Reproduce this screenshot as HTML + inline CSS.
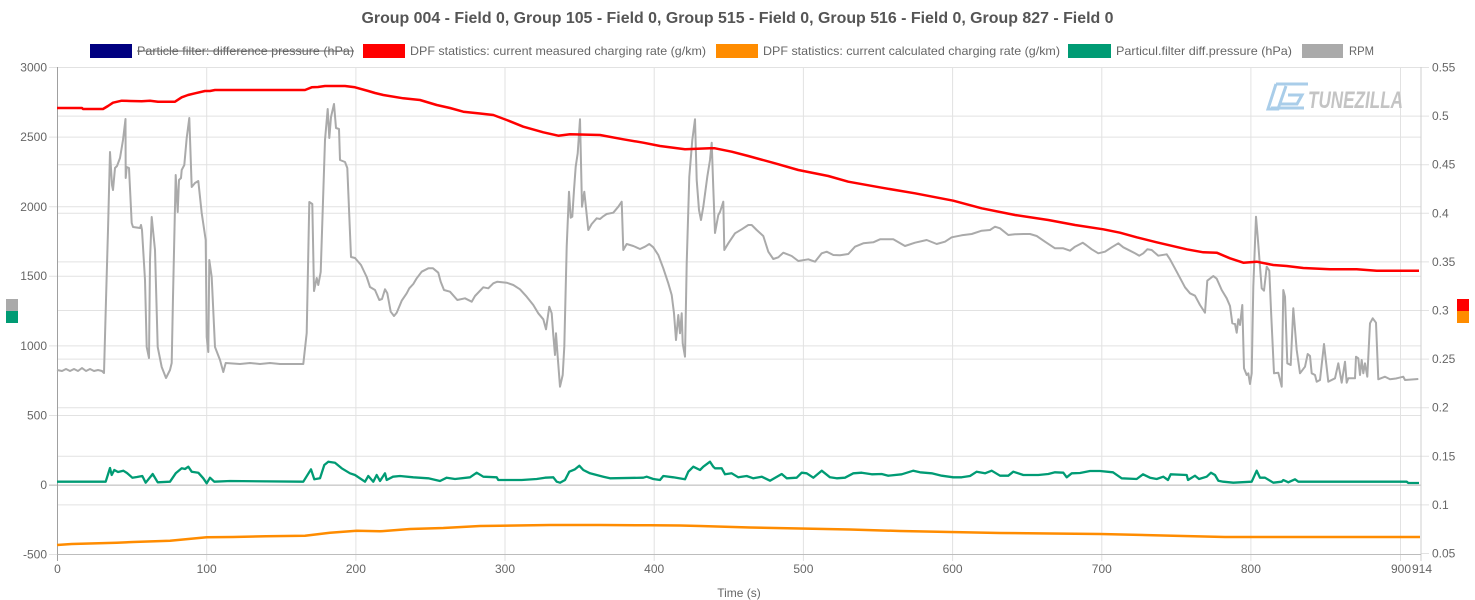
<!DOCTYPE html>
<html>
<head>
<meta charset="utf-8">
<style>
html,body{margin:0;padding:0;background:#fff;}
svg{display:block;}
text{font-family:"Liberation Sans",Arial,sans-serif;}
</style>
</head>
<body>
<svg width="1475" height="600" viewBox="0 0 1475 600" xmlns="http://www.w3.org/2000/svg">
<rect width="1475" height="600" fill="#fff"/>
<!-- Title -->
<text x="737.5" y="23" text-anchor="middle" font-size="16" font-weight="bold" fill="#555" textLength="752" lengthAdjust="spacingAndGlyphs">Group 004 - Field 0, Group 105 - Field 0, Group 515 - Field 0, Group 516 - Field 0, Group 827 - Field 0</text>

<!-- Legend -->
<g font-size="12" fill="#666">
<rect x="90" y="44" width="42" height="14" fill="#000080"/>
<text x="137" y="55" textLength="217" lengthAdjust="spacingAndGlyphs">Particle filter: difference pressure (hPa)</text>
<line x1="137" y1="51" x2="354" y2="51" stroke="#666" stroke-width="1"/>
<rect x="363" y="44" width="42" height="14" fill="#ff0000"/>
<text x="410" y="55" textLength="296" lengthAdjust="spacingAndGlyphs">DPF statistics: current measured charging rate (g/km)</text>
<rect x="716" y="44" width="42" height="14" fill="#ff8c00"/>
<text x="763" y="55" textLength="297" lengthAdjust="spacingAndGlyphs">DPF statistics: current calculated charging rate (g/km)</text>
<rect x="1068" y="44" width="43" height="14" fill="#009b74"/>
<text x="1116" y="55" textLength="176" lengthAdjust="spacingAndGlyphs">Particul.filter diff.pressure (hPa)</text>
<rect x="1302" y="44" width="41" height="14" fill="#aaaaaa"/>
<text x="1349" y="55" textLength="25" lengthAdjust="spacingAndGlyphs">RPM</text>
</g>

<!-- Horizontal gridlines (left axis) -->
<g stroke="#e2e2e2" stroke-width="1">
<line x1="49" y1="67.5" x2="1421" y2="67.5"/>
<line x1="49" y1="137.1" x2="1421" y2="137.1"/>
<line x1="49" y1="206.7" x2="1421" y2="206.7"/>
<line x1="49" y1="276.3" x2="1421" y2="276.3"/>
<line x1="49" y1="345.9" x2="1421" y2="345.9"/>
<line x1="49" y1="415.5" x2="1421" y2="415.5"/>
<line x1="49" y1="554.5" x2="1421" y2="554.5"/>
<!-- right axis -->
<line x1="57.5" y1="116.1" x2="1429" y2="116.1"/>
<line x1="57.5" y1="164.7" x2="1429" y2="164.7"/>
<line x1="57.5" y1="213.3" x2="1429" y2="213.3"/>
<line x1="57.5" y1="261.9" x2="1429" y2="261.9"/>
<line x1="57.5" y1="310.5" x2="1429" y2="310.5"/>
<line x1="57.5" y1="359.1" x2="1429" y2="359.1"/>
<line x1="57.5" y1="407.7" x2="1429" y2="407.7"/>
<line x1="57.5" y1="456.3" x2="1429" y2="456.3"/>
<line x1="57.5" y1="504.9" x2="1429" y2="504.9"/>
<line x1="1421" y1="67.5" x2="1429" y2="67.5"/>
<line x1="1421" y1="553.5" x2="1429" y2="553.5"/>
<!-- vertical -->
<line x1="206.7" y1="67.5" x2="206.7" y2="561"/>
<line x1="355.9" y1="67.5" x2="355.9" y2="561"/>
<line x1="505" y1="67.5" x2="505" y2="561"/>
<line x1="654.2" y1="67.5" x2="654.2" y2="561"/>
<line x1="803.4" y1="67.5" x2="803.4" y2="561"/>
<line x1="952.6" y1="67.5" x2="952.6" y2="561"/>
<line x1="1101.8" y1="67.5" x2="1101.8" y2="561"/>
<line x1="1250.9" y1="67.5" x2="1250.9" y2="561"/>
<line x1="1400.5" y1="67.5" x2="1400.5" y2="561"/>
</g>
<!-- zero line & axes -->
<line x1="49" y1="485.1" x2="1421" y2="485.1" stroke="#b5b5b5" stroke-width="1"/>
<line x1="57.5" y1="67" x2="57.5" y2="561" stroke="#a0a0a0" stroke-width="1"/>
<line x1="1421" y1="67" x2="1421" y2="561" stroke="#cfcfcf" stroke-width="1"/>
<line x1="57.5" y1="554.5" x2="1421" y2="554.5" stroke="#bdbdbd" stroke-width="1"/>

<!-- Left axis labels -->
<g font-size="12" fill="#666" text-anchor="end">
<text x="47" y="71.5">3000</text>
<text x="47" y="141">2500</text>
<text x="47" y="211">2000</text>
<text x="47" y="280">1500</text>
<text x="47" y="350">1000</text>
<text x="47" y="419.5">500</text>
<text x="47" y="489">0</text>
<text x="47" y="558.5">-500</text>
</g>
<!-- Right axis labels -->
<g font-size="12" fill="#666" text-anchor="start">
<text x="1432" y="71.5">0.55</text>
<text x="1432" y="120">0.5</text>
<text x="1432" y="168.7">0.45</text>
<text x="1432" y="217.3">0.4</text>
<text x="1432" y="266">0.35</text>
<text x="1432" y="314.5">0.3</text>
<text x="1432" y="363">0.25</text>
<text x="1432" y="411.7">0.2</text>
<text x="1432" y="460.3">0.15</text>
<text x="1432" y="509">0.1</text>
<text x="1432" y="557.5">0.05</text>
</g>
<!-- X axis labels -->
<g font-size="12" fill="#666" text-anchor="middle">
<text x="57.5" y="573">0</text>
<text x="206.7" y="573">100</text>
<text x="355.9" y="573">200</text>
<text x="505" y="573">300</text>
<text x="654.2" y="573">400</text>
<text x="803.4" y="573">500</text>
<text x="952.6" y="573">600</text>
<text x="1101.8" y="573">700</text>
<text x="1250.9" y="573">800</text>
<text x="1401" y="573">900</text>
<text x="1422" y="573">914</text>
<text x="739" y="597">Time (s)</text>
</g>

<!-- axis colour markers -->
<rect x="6" y="299" width="12" height="12" fill="#aaaaaa"/>
<rect x="6" y="311" width="12" height="12" fill="#009b74"/>
<rect x="1457" y="299" width="12" height="12" fill="#ff0000"/>
<rect x="1457" y="311" width="12" height="12" fill="#ff8c00"/>

<!-- Logo -->
<g stroke="#a9cde9" stroke-width="3" fill="none">
<polyline points="1276,84 1308,84"/>
<polyline points="1276,84 1268,109 1278,109 1286,86"/>
<polyline points="1288,95 1302,95 1297,104 1280,104"/>
<polyline points="1271,108 1304,108"/>
</g>
<text x="1308" y="108" font-size="24" font-weight="bold" font-style="italic" fill="#c4c4c4" textLength="95" lengthAdjust="spacingAndGlyphs">TUNEZILLA</text>

<!-- Orange -->
<polyline fill="none" stroke="#ff8c00" stroke-width="2.5" stroke-linejoin="round" points="57,545 71.7,544 116.7,542.7 133,542 170,540.7 206.7,537.3 233,537 266,536.3 305,535.7 330,532.7 356.7,530.7 380,531.3 410,529 443.3,528 480,526 500,525.7 550,525 600,525 650,525.3 680,525.5 700,526 750,527.5 800,528.5 850,529.5 900,531 950,532 1000,533 1050,533.5 1100,534 1173,535.7 1225,537 1420,537"/>

<!-- Green -->
<polyline fill="none" stroke="#009b74" stroke-width="2.3" stroke-linejoin="round" points="57,481.7 105.7,481.7 110,468 111.7,475 114.3,470 118,472 123.3,470.7 127,473 132.3,477.7 137,477 142.3,476 145.7,482.7 152.7,474 157.7,482.3 170,481.7 175.7,473.3 181.7,468.3 185,469 188.3,466.7 191.7,471.7 198.3,472.7 203.3,478.3 206.7,483.3 210,477.7 214.3,481.7 230,481 303.3,481.7 311,469.3 314.3,479.3 320,478.3 324.3,465 328.3,461.7 335,462.7 341.7,468.3 350,473.3 355,475 365,481.7 368.3,476 373.3,481.7 376.7,475 380,481 385,473.3 386.7,480 393,476.7 400,476 413.3,477.3 428.3,478.3 440,481 446.7,477.7 455,479 470,477.3 476.7,472.7 483.3,476.7 496.7,477.3 498.3,480 521.7,480 536.7,479 545,477.7 553.3,477.3 556.7,481.7 560,482.7 565,480 569.3,471.7 575,469.3 579.3,465.7 583.3,470 590,473.3 603.3,476.7 610,478.3 643.3,477.7 646.7,476.7 653.3,479 660,480 663.3,476 673.3,477.3 685,479.3 688.3,471.7 693.3,466.7 700,470 703.3,466.7 710,461.7 713.3,466.7 715,468.3 721.7,468.3 725,474.3 731.7,473.3 738.3,477.3 746.7,476 753.3,478.3 761.7,476.7 770,480.7 781.7,474 786.7,478.3 796.7,477.7 801.7,472.7 806.7,473.3 813.3,477.7 821.7,470.7 830,477.3 836.7,478.3 845,477.7 853.3,473.3 861.7,472.7 871.7,474.3 881.7,474 888.3,475.7 901.7,474.3 913.3,470.7 920,472.3 931.7,473.3 941.7,475.7 953.3,477.3 961.7,477.3 970,476 976.7,471.7 985,473.3 991.7,470.7 1000,475.7 1008.3,475.7 1013.3,471.7 1023.3,475 1038.3,475 1048.3,474 1055,472.3 1063.3,472.7 1066.7,477.3 1071.7,473.3 1080,473 1090,471 1100,471 1113,472.3 1121.7,478.3 1136.7,479 1143,474.3 1150,477.7 1156.7,479 1163.3,476.7 1168,480 1170.7,474.3 1186.7,475 1188,480 1195,475.7 1199,479 1206.7,476.7 1211,472.7 1215,475 1218.3,480.7 1223.3,481.7 1233.3,482.7 1251.7,481.7 1256.7,470.7 1260,477.7 1265,477.7 1273.3,482.7 1281.7,481.7 1283.3,480 1288.3,482.3 1295,479.3 1298.3,481.7 1406.7,481.7 1408.3,483 1419,483"/>

<!-- Gray RPM -->
<polyline fill="none" stroke="#aaaaaa" stroke-width="2" stroke-linejoin="round" points="57,370 62,371 66,369 70,371 74,369 78,371 82,368 86,371 90,369 94,371 98,370 102,371 104,373 106,300 108,230 110,152 112,185 113,190 115,168 117,166 120,158 123,140 125.5,119 125.7,178 126.7,167 129,168 131.7,223 133,227 140,228 141,225 142,230 145,280 146.7,347 149,358 150,260 151.7,217 155,250 157.7,347 161.7,367 166,378 170,370 171.7,363 173,297 175.7,175 177.7,212 179,180 181,178 181.7,170 184.3,165 186.7,138 189.3,118 191.7,187 195,183 198.3,181 201.7,213 205.7,240 206.7,337 208.3,352 209.3,260 211.7,277 215,347 220,360 223.3,372 225.7,363 240,364 250,363 260,364 270,363 280,364 290,364 303.3,364 306.7,333 309.3,202 312.3,204 314,291 316.7,278 318.3,285 320.7,272 325,140 327.7,109 329.3,138 331,117 334,104 336,128 339,129 340,160 345,162 347.3,168 351,257 355,258 361,265 366.7,277 370,287 375,290 379.3,300 382,299 385,289.3 387.3,293.3 390.7,311.7 394,316 396.7,312.7 401.7,300.7 406.7,293.3 409.3,288.3 413.3,284 416.7,278.3 421.7,271.7 428.3,268.3 433,268.3 438.3,272.7 440.7,281.7 444,290 450,291.7 457.3,300 465,298.3 471.7,301.7 475,296 483.3,287.3 488.3,288.3 493.3,283.3 497.3,281.7 506.7,282.7 513.3,285 520,289.3 526.7,296.7 533.3,305 538.3,313.3 543.3,319.3 546,329.3 549.3,306.7 551.7,313.3 553.3,335 555,355 556,333.3 557.7,356.7 560,386.7 562.7,375 564.3,346.7 566.7,246.7 569,191.7 570.7,217.7 572.3,216.7 574,190 575.7,166.7 577.7,153.3 580,119.3 582,206.7 584.3,191.7 588.3,230 591.7,224 596.7,218.3 600,219 602.7,216.7 606.7,214 613.3,212.7 618.3,206.7 621.7,201.7 623.3,250 626.7,244 633.3,246 640,249 645,246.7 649.3,244 653.3,247.3 658.3,255 663.3,268.3 668.3,283.3 671.7,295 674,313.3 676,340 678.3,315 680,333.3 681.7,313.3 682.7,343.3 685,356.7 686.7,263.3 689.3,176.7 692.3,140 695,119.3 696.7,180 699,210 701,220 703.3,206.7 707.3,176.7 710,160 711.7,142.7 713.3,188.3 715,233 718.3,215 720,212 723.3,201.7 724.3,250 728.3,243.3 735,233.3 741.7,229.3 748.3,225 751.7,225 756.7,230 763.3,236 768.3,251.7 773.3,259 778.3,257.3 783.3,252.7 791.7,256 798.3,261 808.3,259.3 815,261.7 821.7,253.3 826.7,251.7 833.3,255 840,255.3 848.3,254 855,246.7 863.3,243.3 873.3,242.3 880,239.3 893.3,239.3 905,246 915,242.7 926.7,240 936.7,244 945,241.7 951.7,237.3 961.7,235.3 971.7,234 981.7,230.7 990,230 995,226.7 1000,228.3 1008.3,235 1015,234.3 1023.3,234 1030,234 1036.7,236 1045,241.7 1055,248.3 1063.3,248.3 1070,250.7 1075,246.7 1082.7,242.7 1086,245 1091.7,249.3 1098.3,253.3 1105,251.7 1111.7,247.3 1118.3,243.3 1123.3,247.3 1130,250.7 1135,253.3 1139.3,255.7 1143.3,253.3 1147.3,249.3 1151.7,250 1158.3,255.7 1166.7,254.3 1170,259.3 1176.7,271.7 1185,287.3 1190,293.3 1195,295.7 1200,305 1205,312.7 1207.3,280.7 1213.3,276 1216.7,278.7 1221.7,290 1226.7,298.3 1230,306 1232.3,323.3 1235,324 1236.7,332.7 1238.3,319.3 1240,325 1242.3,305 1244,368.3 1246.7,375 1248.3,373.3 1250,384 1251.7,373.3 1253.3,286.7 1256,216.7 1257.7,236.7 1260,266.7 1261.7,288.3 1264,290.7 1266.7,266.7 1269.3,270.7 1271,310 1274,373.3 1278.3,372.7 1281.7,386.7 1283.3,290 1285,296.7 1287.3,363.3 1290.7,365 1293.3,308.3 1296.7,350 1300,373.3 1305,366.7 1307.7,354 1310,356 1311.7,373.3 1315,375 1316.7,381.7 1320,380 1324,344 1328.3,381.7 1335,378.3 1338.3,363.3 1341.7,382.7 1345,361.7 1346.7,382.7 1348.3,378.3 1355,378.3 1356,356.7 1358.3,358.3 1360,375 1361.7,360 1363.3,373.3 1365,363.3 1367.3,376.7 1370,323.3 1372.7,318.3 1376,322.7 1378.3,379.3 1385,376.7 1390,379.3 1396,378.5 1403.3,376.7 1405,380 1418.3,379"/>

<!-- Red -->
<polyline fill="none" stroke="#ff0000" stroke-width="2.5" stroke-linejoin="round" points="57,108 82,108 83,109 103,109 108,106 113,102.7 121.7,100.7 130,101 141.7,101.3 150,100.7 158,101.7 175,101.7 181.7,97.3 188,95 195,93.3 205,91 210,91 215,90 305,90 311.7,87.3 318,87 325,86 345,86 355,87.3 368.3,91 375,93 383.3,95 403.3,98.3 420,100 436.7,105 450,108 463.3,111.7 480,113.5 493.3,115 506.7,120 523.3,126.7 543.3,132.3 558.3,135.7 570,134.3 600,135 623.3,139.3 643.3,142.7 660,146 685,149.3 710,148.3 715,148.3 731.7,151.7 748.3,156 775,163.3 798.3,170 828.3,176 848.3,181.7 881.7,187.7 915,193.3 953.3,200.7 981.7,208.3 1015,215 1048.3,220 1075,225 1103.3,229.3 1120,232.7 1136.7,237.3 1156.7,242.3 1186.7,249.3 1203.3,252.3 1216.7,252.7 1230,258.3 1243.3,262.7 1256.7,261.7 1273.3,265 1286.7,266 1303.3,268 1330,269.3 1356.7,269.3 1376.7,270.7 1419,270.7"/>
</svg>
</body>
</html>
